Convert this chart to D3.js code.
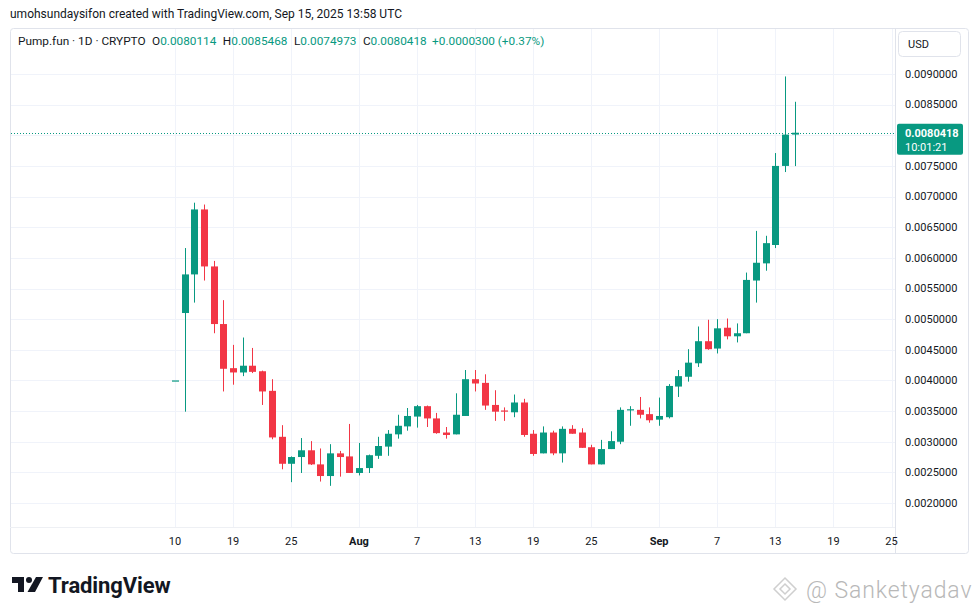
<!DOCTYPE html>
<html>
<head>
<meta charset="utf-8">
<script src="https://cdn.jsdelivr.net/npm/d3@7/dist/d3.min.js"></script>
<style>
  html, body { margin: 0; padding: 0; background: #fff; }
  svg { display: block; font-family: Roboto, "Noto Sans", sans-serif; }
</style>
</head>
<body>
<svg id="chart" width="980" height="615"></svg>
<script>
// ---- data (daily candles, Pump.fun / USD) ----
const firstDay = "2025-07-13";
const opens  = [0.00400,0.00510,0.00573,0.00679,0.00586,0.00492,0.00420,0.00413,0.00424,0.00415,
                0.00383,0.00308,0.00264,0.00275,0.00286,0.00263,0.00244,0.00281,0.00276,0.00249,
                0.00257,0.00277,0.00292,0.00312,0.00325,0.00341,0.00358,0.00338,0.00315,0.00312,
                0.00342,0.00402,0.00396,0.00360,0.00351,0.00348,0.00364,0.00313,0.00281,0.00315,
                0.00281,0.00321,0.00315,0.00291,0.00263,0.00288,0.00300,0.00351,0.00352,0.00345,
                0.00336,0.00340,0.00390,0.00406,0.00428,0.00464,0.00452,0.00486,0.00472,0.00477,
                0.00563,0.00591,0.00621,0.00750,0.0080114];
const highs  = [0.00400,0.00616,0.00690,0.00687,0.00595,0.00531,0.00458,0.00470,0.00453,0.00416,
                0.00402,0.00327,0.00276,0.00306,0.00301,0.00289,0.00296,0.00285,0.00329,0.00298,
                0.00279,0.00308,0.00319,0.00344,0.00355,0.00360,0.00359,0.00347,0.00324,0.00379,
                0.00417,0.00417,0.00410,0.00384,0.00356,0.00377,0.00370,0.00319,0.00325,0.00318,
                0.00325,0.00327,0.00322,0.00295,0.00303,0.00317,0.00356,0.00358,0.00373,0.00356,
                0.00372,0.00394,0.00417,0.00451,0.00488,0.00499,0.00500,0.00501,0.00493,0.00576,
                0.00644,0.00636,0.00771,0.00896,0.0085468];
const lows   = [0.00400,0.00349,0.00527,0.00563,0.00477,0.00382,0.00393,0.00407,0.00412,0.00360,
                0.00304,0.00255,0.00234,0.00249,0.00262,0.00235,0.00228,0.00243,0.00249,0.00245,
                0.00249,0.00272,0.00277,0.00305,0.00318,0.00323,0.00324,0.00313,0.00305,0.00312,
                0.00342,0.00382,0.00352,0.00334,0.00334,0.00340,0.00308,0.00277,0.00281,0.00278,
                0.00266,0.00313,0.00290,0.00263,0.00263,0.00288,0.00296,0.00326,0.00338,0.00331,
                0.00326,0.00338,0.00373,0.00398,0.00422,0.00450,0.00444,0.00467,0.00462,0.00477,
                0.00527,0.00579,0.00616,0.00740,0.0074973];
const closes = [0.00400,0.00573,0.00679,0.00586,0.00492,0.00419,0.00413,0.00424,0.00414,0.00382,
                0.00307,0.00264,0.00275,0.00286,0.00263,0.00244,0.00281,0.00275,0.00249,0.00257,
                0.00278,0.00293,0.00313,0.00326,0.00342,0.00358,0.00338,0.00314,0.00311,0.00344,
                0.00402,0.00395,0.00359,0.00349,0.00349,0.00364,0.00311,0.00280,0.00315,0.00281,
                0.00321,0.00313,0.00290,0.00263,0.00288,0.00301,0.00352,0.00353,0.00344,0.00335,
                0.00342,0.00391,0.00407,0.00429,0.00464,0.00451,0.00485,0.00472,0.00477,0.00564,
                0.00592,0.00624,0.00750,0.0080114,0.0080418];

const priceTicks = [0.0020,0.0025,0.0030,0.0035,0.0040,0.0045,0.0050,0.0055,0.0060,0.0065,0.0070,0.0075,0.0085,0.0090];
const gridPrices = [0.0020,0.0025,0.0030,0.0035,0.0040,0.0045,0.0050,0.0055,0.0060,0.0065,0.0070,0.0075,0.0080,0.0085,0.0090];
const timeTickDates  = ["2025-07-13","2025-07-19","2025-07-25","2025-08-01","2025-08-07","2025-08-13","2025-08-19",
                        "2025-08-25","2025-09-01","2025-09-07","2025-09-13","2025-09-19","2025-09-25"];
const timeTickLabels = ["10","19","25","Aug","7","13","19","25","Sep","7","13","19","25"];
const lastPrice = 0.0080418;
const countdown = "10:01:21";
const header = "umohsundaysifon created with TradingView.com, Sep 15, 2025 13:58 UTC";
const legendParts = [
  {t:"Pump.fun · 1D · CRYPTO", c:"#131722"},
  {t:"O", c:"#131722"}, {t:"0.0080114", c:"#089981"},
  {t:"H", c:"#131722"}, {t:"0.0085468", c:"#089981"},
  {t:"L", c:"#131722"}, {t:"0.0074973", c:"#089981"},
  {t:"C", c:"#131722"}, {t:"0.0080418", c:"#089981"},
  {t:"+0.0000300 (+0.37%)", c:"#089981"}
];

// ---- build ----
const parse = d3.utcParse("%Y-%m-%d");
const day0 = parse(firstDay);
const candles = opens.map((o,i)=>({date:d3.utcDay.offset(day0,i), o, h:highs[i], l:lows[i], c:closes[i]}));

const UP = "#089981", DOWN = "#F23645";
const svg = d3.select("#chart");

const paneL = 10, paneR = 895, paneT = 28, paneB = 527, frameR = 968, frameB = 553;

const x = d3.scaleUtc()
  .domain([parse("2025-07-13"), parse("2025-09-25")])
  .range([175, 891.5]);
const y = d3.scaleLinear().domain([0.002, 0.009]).range([503, 74]);

// frame
svg.append("rect").attr("x",paneL+0.5).attr("y",paneT+0.5).attr("width",frameR-paneL).attr("height",frameB-paneT)
  .attr("rx",3).attr("fill","none").attr("stroke","#e0e3eb");

// gridlines
const grid = svg.append("g");
grid.selectAll("line.h").data(gridPrices).join("line")
  .attr("x1",paneL+1).attr("x2",paneR).attr("y1",d=>Math.round(y(d))+0.5).attr("y2",d=>Math.round(y(d))+0.5)
  .attr("stroke","#f0f3fa");
grid.selectAll("line.v").data(timeTickDates).join("line")
  .attr("x1",d=>Math.round(x(parse(d)))+0.5).attr("x2",d=>Math.round(x(parse(d)))+0.5)
  .attr("y1",paneT+1).attr("y2",paneB).attr("stroke","#f0f3fa");

// pane separators
svg.append("line").attr("x1",paneR+0.5).attr("x2",paneR+0.5).attr("y1",paneT).attr("y2",frameB).attr("stroke","#e0e3eb");
svg.append("line").attr("x1",paneL).attr("x2",paneR).attr("y1",paneB+0.5).attr("y2",paneB+0.5).attr("stroke","#eef0f4");

// last price dotted line
svg.append("line").attr("x1",paneL+1).attr("x2",paneR).attr("y1",Math.round(y(lastPrice))+0.5).attr("y2",Math.round(y(lastPrice))+0.5)
  .attr("stroke",UP).attr("stroke-dasharray","1,2").attr("stroke-width",1);

// candles
const bw = 7;
const cg = svg.append("g");
const cand = cg.selectAll("g").data(candles).join("g");
cand.append("line")
  .attr("x1",d=>Math.round(x(d.date))+0.5).attr("x2",d=>Math.round(x(d.date))+0.5)
  .attr("y1",d=>y(d.h)).attr("y2",d=>y(d.l))
  .attr("stroke",d=>d.c>=d.o?UP:DOWN).attr("stroke-width",1);
cand.append("rect")
  .attr("x",d=>Math.round(x(d.date))-3)
  .attr("width",bw)
  .attr("y",d=>y(Math.max(d.o,d.c)))
  .attr("height",d=>Math.max(1.2, Math.abs(y(d.o)-y(d.c))))
  .attr("fill",d=>d.c>=d.o?UP:DOWN);

// price axis
const yAxis = svg.append("g");
yAxis.selectAll("text").data(priceTicks).join("text")
  .attr("x",905).attr("y",d=>y(d)).attr("dy","0.35em")
  .attr("font-size",11).attr("fill","#131722")
  .text(d=>d3.format(".7f")(d));

// USD box
svg.append("rect").attr("x",898.5).attr("y",31.5).attr("width",62).attr("height",25).attr("rx",4)
  .attr("fill","#fff").attr("stroke","#e0e3eb");
svg.append("text").attr("x",908).attr("y",44).attr("dy","0.35em").attr("font-size",11).attr("fill","#131722").text("USD");

// last price label
const ly = y(lastPrice);
svg.append("rect").attr("x",897).attr("y",ly-9).attr("width",66).attr("height",31).attr("rx",2).attr("fill",UP);
svg.append("text").attr("x",905).attr("y",ly).attr("dy","0.35em").attr("font-size",11).attr("font-weight","bold")
  .attr("fill","#fff").text(d3.format(".7f")(lastPrice));
svg.append("text").attr("x",905).attr("y",ly+14).attr("dy","0.35em").attr("font-size",11)
  .attr("fill","#fff").text(countdown);

// time axis
const xAxis = svg.append("g");
xAxis.selectAll("text").data(timeTickDates).join("text")
  .attr("x",d=>x(parse(d))).attr("y",541).attr("dy","0.35em").attr("text-anchor","middle")
  .attr("font-size",11).attr("fill","#131722")
  .attr("font-weight",(d,i)=>(timeTickLabels[i]==="Aug"||timeTickLabels[i]==="Sep")?"bold":"normal")
  .text((d,i)=>timeTickLabels[i]);

// header
svg.append("text").attr("x",10).attr("y",14).attr("dy","0.35em").attr("font-size",12).attr("fill","#131722").text(header);

// legend
const leg = svg.append("text").attr("x",18).attr("y",41).attr("dy","0.35em").attr("font-size",11.8);
legendParts.forEach((p,i)=>{
  const gap = (i===1||i===3||i===5||i===7) ? "0.55em" : (i===9 ? "0.45em" : "0");
  leg.append("tspan").attr("dx", gap).attr("fill",p.c).text(p.t);
});

// TradingView logo
const logo = svg.append("g").attr("transform","translate(12,577)");
logo.append("path").attr("d","M0,0 H12 V15 H6 V6 H0 Z").attr("fill","#131722");
logo.append("circle").attr("cx",17).attr("cy",3).attr("r",3).attr("fill","#131722");
logo.append("path").attr("d","M24,0 H31 L23,15 H15.5 Z").attr("fill","#131722");
svg.append("text").attr("x",48).attr("y",585).attr("dy","0.35em").attr("font-size",22).attr("font-weight","bold")
  .attr("fill","#131722").attr("letter-spacing","-0.1").text("TradingView");

// watermark
const wm = svg.append("g").attr("transform","translate(785,589)").attr("fill","none").attr("stroke","#cfcfcf").attr("stroke-width",1.5);
wm.append("path").attr("d","M0,-11 L11,0 L0,11 L-11,0 Z");
wm.append("path").attr("d","M0,-5 L5,0 L0,5 L-5,0 Z");
svg.append("text").attr("x",806).attr("y",590).attr("dy","0.35em").attr("font-size",23).attr("fill","#b8b8b8")
  .attr("font-weight","300").attr("letter-spacing","0.9").text("@ Sanketyadav");
</script>
</body>
</html>
